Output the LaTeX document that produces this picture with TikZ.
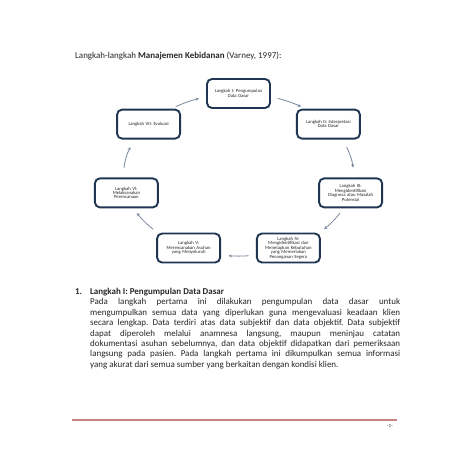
\documentclass[tikz,border=0pt]{standalone}
\usepackage{fontspec}
\setmainfont{Carlito}
\usetikzlibrary{positioning}
\usetikzlibrary{calc}
\usetikzlibrary{arrows.meta}
\definecolor{NAVY}{HTML}{1F3552}
\definecolor{ARROW}{HTML}{7A879E}
\definecolor{RULE}{HTML}{C8847E}
\definecolor{INK}{HTML}{262626}
\tikzset{
	every node/.style = {inner sep=0pt, text=INK},
	stepbox/.style = {draw=NAVY, line width=1.9bp, rounded corners=5bp, fill=white,
		minimum width=63bp, minimum height=29bp, text width=58bp, align=center,
		font=\fontsize{4.7}{4.4}\selectfont},
	cyc/.style = {draw=ARROW, line width=0.8bp, -{Stealth[length=3.5bp,width=3bp]}},
	body/.style = {font=\fontsize{9}{10.4}\selectfont\frenchspacing}
}
\begin{document}
\begin{tikzpicture}[x=1bp, y=1bp]
		\useasboundingbox (0,0) rectangle (453,453);
		% title
		\node[body, anchor=base west] (title) at (75,394.5)
		      {Langkah-langkah \textbf{Manajemen Kebidanan} (Varney, 1997):};
		% steps
		\coordinate (C) at (238.5,278.2);
		\node[stepbox] (s1) at ($(C)+(90:115 and 81.3)$) {Langkah I: Pengumpulan\\Data Dasar};
		\node[stepbox] (s2) at ($(C)+(38.57:115 and 81.3)$) {Langkah II: Interpretasi\\Data Dasar};
		\node[stepbox] (s3) at ($(C)+(-12.86:115 and 81.3)$) {Langkah III:\\Mengidentifikasi\\Diagnosa atau Masalah\\Potensial};
		\node[stepbox] (s4) at ($(C)+(-64.29:115 and 81.3)$) {Langkah IV:\\Mengidentifikasi dan\\Menetapkan Kebutuhan\\yang Memerlukan\\Penanganan Segera};
		\node[stepbox] (s5) at ($(C)+(-115.71:115 and 81.3)$) {Langkah V:\\Merencanakan Asuhan\\yang Menyeluruh};
		\node[stepbox] (s6) at ($(C)+(-167.14:115 and 81.3)$) {Langkah VI:\\Melaksanakan\\Perencanaan};
		\node[stepbox] (s7) at ($(C)+(141.43:115 and 81.3)$) {Langkah VII: Evaluasi};
		% arrows round the cycle
		\coordinate (a12) at ($(C)+(70:115 and 81.3)$);
		\coordinate (a23) at ($(C)+(20:115 and 81.3)$);
		\coordinate (a34) at ($(C)+(-28:115 and 81.3)$);
		\coordinate (a45) at ($(C)+(-85:115 and 81.3)$);
		\coordinate (a56) at ($(C)+(-138:115 and 81.3)$);
		\coordinate (a67) at ($(C)+(175:115 and 81.3)$);
		\coordinate (a71) at ($(C)+(123:115 and 81.3)$);
		\draw[cyc] (a12) arc[start angle=70, end angle=57, x radius=115, y radius=81.3];
		\draw[cyc] (a23) arc[start angle=20, end angle=5, x radius=115, y radius=81.3];
		\draw[cyc] (a34) arc[start angle=-28, end angle=-42, x radius=115, y radius=81.3];
		\draw[cyc] (a45) arc[start angle=-85, end angle=-95, x radius=115, y radius=81.3];
		\draw[cyc] (a56) arc[start angle=-138, end angle=-152, x radius=115, y radius=81.3];
		\draw[cyc] (a67) arc[start angle=175, end angle=160, x radius=115, y radius=81.3];
		\draw[cyc] (a71) arc[start angle=123, end angle=110, x radius=115, y radius=81.3];
		% first step text
		\node[body, anchor=base west] (num) at (75,158.5) {\textbf{1.}};
		\node[body, anchor=base west] (head) at (90,158.5) {\textbf{Langkah I: Pengumpulan Data Dasar}};
		\node[body, anchor=base west, text width=310bp, align=justify] (para) at (90,148)
		      {Pada langkah pertama ini dilakukan pengumpulan data dasar untuk\linebreak
		       mengumpulkan semua data yang diperlukan guna mengevaluasi keadaan klien\linebreak
		       secara lengkap. Data terdiri atas data subjektif dan data objektif. Data subjektif\linebreak
		       dapat diperoleh melalui anamnesa langsung, maupun meninjau catatan\linebreak
		       dokumentasi asuhan sebelumnya, dan data objektif didapatkan dari pemeriksaan\linebreak
		       langsung pada pasien. Pada langkah pertama ini dikumpulkan semua informasi\linebreak
		       yang akurat dari semua sumber yang berkaitan dengan kondisi klien.};
		% footer
		\coordinate (r1) at (72,33);
		\coordinate (r2) at (397,33);
		\draw[RULE, line width=1.2bp] (r1) -- (r2);
		\node[font=\fontsize{5}{6}\selectfont, text=INK, anchor=base] (pg) at (390,25) {-1-};
	\end{tikzpicture}
\end{document}
